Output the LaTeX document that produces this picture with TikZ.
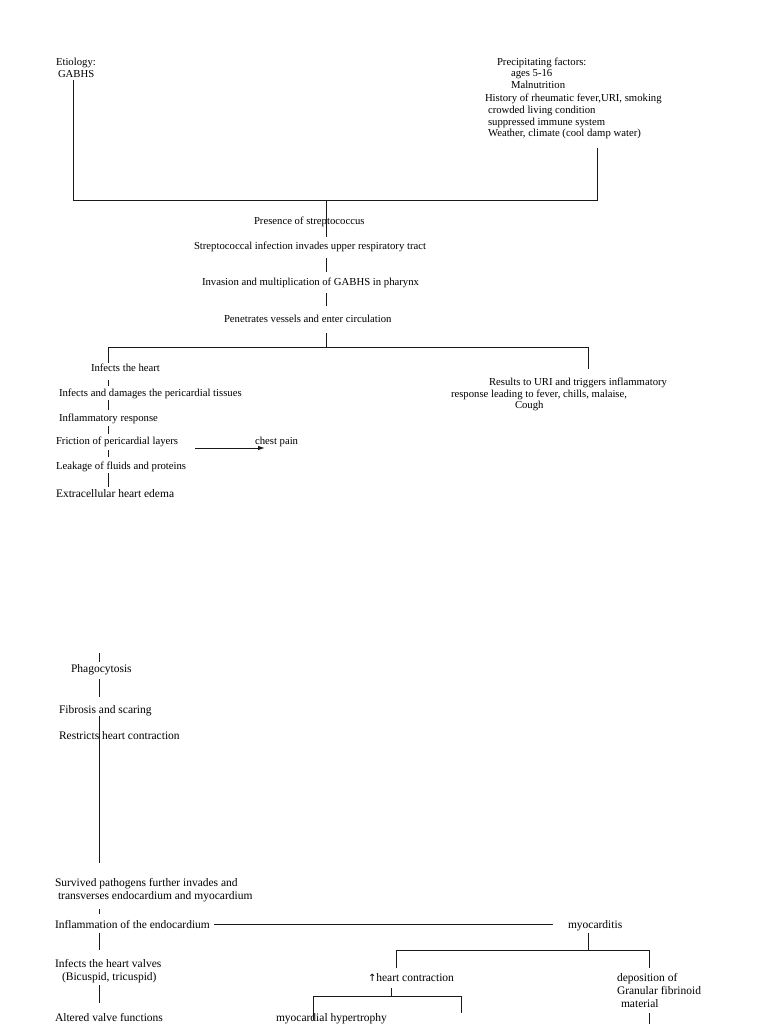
\documentclass[tikz,border=0pt]{standalone}
\usepackage{fontspec}
\setmainfont{Liberation Serif}
\newfontfamily\dejavu{DejaVu Sans}
\usetikzlibrary{arrows.meta}
\begin{document}
\begin{tikzpicture}[x=1pt,y=-1pt,
  sm/.style={anchor=base west,inner sep=0pt,outer sep=0pt,font=\fontsize{10.7}{12}\selectfont},
  bg/.style={anchor=base west,inner sep=0pt,outer sep=0pt,font=\fontsize{11.5}{14}\selectfont},
  ln/.style={draw=black!90,line width=1pt},
  arr/.style={ln,-{Latex[length=7pt,width=4.5pt]}}]
\useasboundingbox[fill=white] (0,0) rectangle (768,1024);
% ---- texts
\node[sm] (eti) at (56,66) {Etiology:};
\node[sm] (gab) at (58,78) {GABHS};
\node[sm] (pf1) at (497,66) {Precipitating factors:};
\node[sm] (pf2) at (511,77) {ages 5-16};
\node[sm] (pf3) at (511,89) {Malnutrition};
\node[sm] (pf4) at (485,102) {History of rheumatic fever,URI, smoking};
\node[sm] (pf5) at (488,114) {crowded living condition};
\node[sm] (pf6) at (488,126) {suppressed immune system};
\node[sm] (pf7) at (488,137) {Weather, climate (cool damp water)};
\node[sm] (pres) at (254,225) {Presence of streptococcus};
\node[sm] (strep) at (194,249) {Streptococcal infection invades upper respiratory tract};
\node[sm] (inv) at (202,285) {Invasion and multiplication of GABHS in pharynx};
\node[sm] (pen) at (224,322) {Penetrates vessels and enter circulation};
\node[sm] (inf) at (91,371) {Infects the heart};
\node[sm] (dam) at (59,396) {Infects and damages the pericardial tissues};
\node[sm] (infl) at (59,421) {Inflammatory response};
\node[sm] (fric) at (56,444) {Friction of pericardial layers};
\node[sm] (chest) at (255,444) {chest pain};
\node[sm] (leak) at (56,469) {Leakage of fluids and proteins};
\node[bg] (edema) at (56,497) {Extracellular heart edema};
\node[sm] (res1) at (489,385) {Results to URI and triggers inflammatory};
\node[sm] (res2) at (451,397) {response leading to fever, chills, malaise,};
\node[sm] (res3) at (515,408) {Cough};
\node[bg] (phago) at (71,672) {Phagocytosis};
\node[bg] (fib) at (59,713) {Fibrosis and scaring};
\node[bg] (restr) at (59,739) {Restricts heart contraction};
\node[bg] (surv1) at (55,886) {Survived pathogens further invades and};
\node[bg] (surv2) at (58,899) {transverses endocardium and myocardium};
\node[bg] (endo) at (55,928) {Inflammation of the endocardium};
\node[bg] (myo) at (568,928) {myocarditis};
\node[bg] (valv1) at (55,967) {Infects the heart valves};
\node[bg] (valv2) at (62,980) {(Bicuspid, tricuspid)};
\node[bg] (alt) at (55,1021) {Altered valve functions};
\node[bg] (hc) at (368,981) {{\dejavu\fontsize{10}{10}\selectfont ↑}heart contraction};
\node[bg] (hyp) at (276,1021) {myocardial hypertrophy};
\node[bg] (dep1) at (617,981) {deposition of};
\node[bg] (dep2) at (617,994) {Granular fibrinoid};
\node[bg] (dep3) at (621,1007) {material};
% ---- coordinates
\coordinate (e1) at (73,80);   \coordinate (e2) at (73,201);
\coordinate (p1) at (597,148); \coordinate (p2) at (597,201);
\coordinate (m0) at (326,201); \coordinate (m1) at (326,237);
\coordinate (m2) at (326,258); \coordinate (m3) at (326,272);
\coordinate (m4) at (326,293); \coordinate (m5) at (326,306);
\coordinate (m6) at (326,333); \coordinate (m7) at (326,347);
\coordinate (l0) at (108,347); \coordinate (l1) at (108,363);
\coordinate (r0) at (588,347); \coordinate (r1) at (588,369);
\coordinate (t1a) at (108,380); \coordinate (t1b) at (108,386);
\coordinate (t2a) at (108,400); \coordinate (t2b) at (108,410);
\coordinate (t3a) at (108,426); \coordinate (t3b) at (108,434);
\coordinate (t4a) at (108,450); \coordinate (t4b) at (108,457);
\coordinate (t5a) at (108,473); \coordinate (t5b) at (108,487);
\coordinate (a0) at (195,448); \coordinate (a1) at (265,448);
\coordinate (q1a) at (99,653); \coordinate (q1b) at (99,662);
\coordinate (q2a) at (99,679); \coordinate (q2b) at (99,697);
\coordinate (q3a) at (99,716); \coordinate (q3b) at (99,863);
\coordinate (q4a) at (99,909); \coordinate (q4b) at (99,914);
\coordinate (q5a) at (99,933); \coordinate (q5b) at (99,950);
\coordinate (q6a) at (99,985); \coordinate (q6b) at (99,1003);
\coordinate (h0) at (214,924); \coordinate (h1) at (553,924);
\coordinate (y0) at (588,933); \coordinate (y1) at (588,950);
\coordinate (y2) at (396,950); \coordinate (y3) at (396,968);
\coordinate (y4) at (649,950); \coordinate (y5) at (649,968);
\coordinate (k0) at (391,988); \coordinate (k1) at (391,996);
\coordinate (k2) at (313,996); \coordinate (k3) at (313,1020);
\coordinate (k4) at (461,996); \coordinate (k5) at (461,1013);
\coordinate (d0) at (649,1013); \coordinate (d1) at (649,1024);
% ---- connectors
\draw[ln] (e1) -- (e2) -- (p2) -- (p1);
\draw[ln] (m0) -- (m1);
\draw[ln] (m2) -- (m3);
\draw[ln] (m4) -- (m5);
\draw[ln] (m6) -- (m7);
\draw[ln] (l1) -- (l0) -- (r0) -- (r1);
\draw[ln] (t1a) -- (t1b);
\draw[ln] (t2a) -- (t2b);
\draw[ln] (t3a) -- (t3b);
\draw[ln] (t4a) -- (t4b);
\draw[ln] (t5a) -- (t5b);
\draw[arr] (a0) -- (a1);
\draw[ln] (q1a) -- (q1b);
\draw[ln] (q2a) -- (q2b);
\draw[ln] (q3a) -- (q3b);
\draw[ln] (q4a) -- (q4b);
\draw[ln] (q5a) -- (q5b);
\draw[ln] (q6a) -- (q6b);
\draw[ln] (h0) -- (h1);
\draw[ln] (y0) -- (y1);
\draw[ln] (y3) -- (y2) -- (y4) -- (y5);
\draw[ln] (k0) -- (k1);
\draw[ln] (k3) -- (k2) -- (k4) -- (k5);
\draw[ln] (d0) -- (d1);
\end{tikzpicture}
\end{document}
